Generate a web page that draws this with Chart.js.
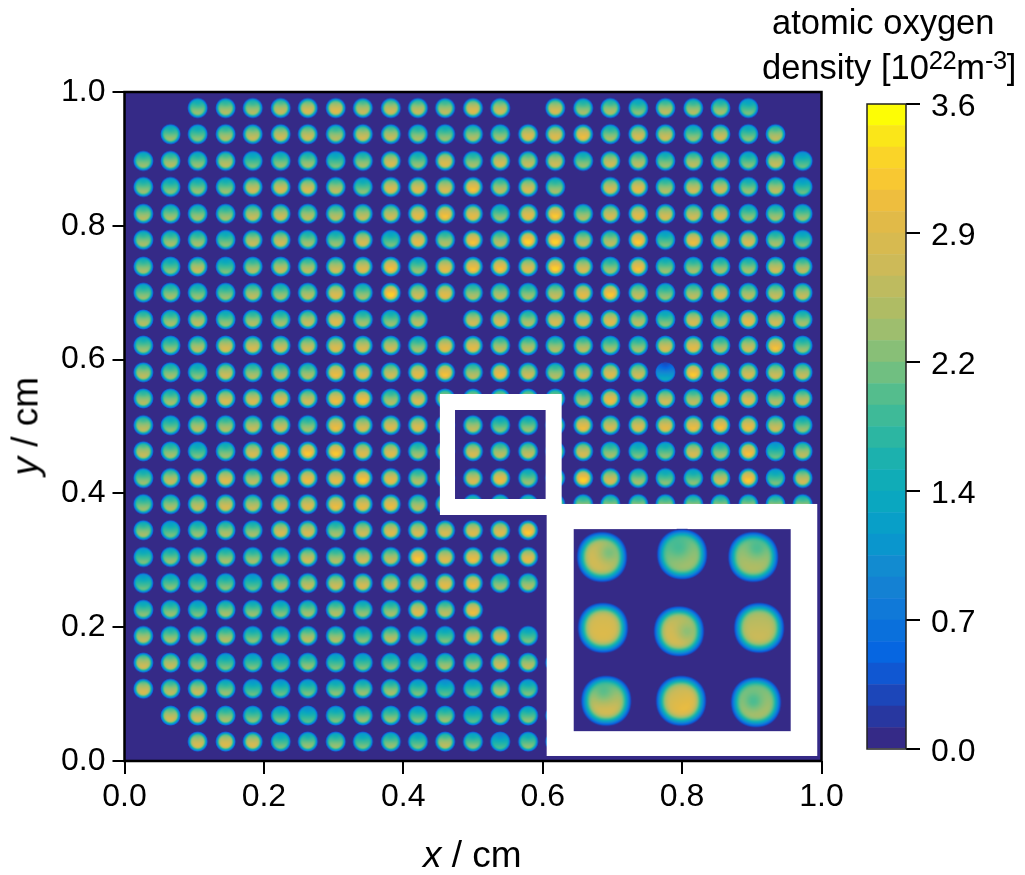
<!DOCTYPE html>
<html>
<head>
<meta charset="utf-8">
<title>atomic oxygen density</title>
<script src="https://cdn.jsdelivr.net/npm/chart.js@4"></script>
<style>
  html, body { margin: 0; padding: 0; background: #fff; }
  #page { position: relative; width: 1025px; height: 875px; overflow: hidden; font-family: "Liberation Sans", Arial, sans-serif; color: #000; }
  canvas { position: absolute; top: 0; }
  .label { position: absolute; white-space: nowrap; line-height: 1; }
  .label sup { font-size: 0.74em; line-height: 0; vertical-align: baseline; position: relative; top: -0.4em; letter-spacing: -0.02em; }
</style>
</head>
<body>
<div id="page">
  <canvas id="mapChart" width="1025" height="875" style="left:0"></canvas>
  <canvas id="barChart" width="185" height="875" style="left:840px"></canvas>
  <div class="label" style="left:772px;top:5px;font-size:34.5px">atomic oxygen</div>
  <div class="label" style="left:762px;top:50px;font-size:34.5px">density [10<sup>22</sup>m<sup>-3</sup>]</div>
  <div class="label" style="left:423px;top:836px;font-size:37px"><i>x</i> / cm</div>
  <div class="label" style="left:-24px;top:408px;font-size:37px;width:98px;transform:rotate(-90deg)"><i>y</i> / cm</div>
</div>
<script>
// hole centres in cm
const colX = [0.027, 0.066, 0.105, 0.145, 0.184, 0.224, 0.263, 0.303, 0.342, 0.382, 0.421, 0.460, 0.500,
              0.539, 0.579, 0.618, 0.658, 0.697, 0.737, 0.776, 0.816, 0.855, 0.895, 0.934, 0.973];
const rowY = [0.976, 0.937, 0.897, 0.858, 0.818, 0.779, 0.739, 0.700, 0.660, 0.621, 0.581, 0.542, 0.502,
              0.463, 0.423, 0.384, 0.345, 0.305, 0.266, 0.226, 0.187, 0.147, 0.108, 0.068, 0.029];

// peak density per hole, top row first, null where a hole is blocked
const _ = null;
const densityRows = [
  [_, _, 2.1, 2.3, 2.3, 2.5, 2.7, 2.8, 2.5, 2.6, 2.5, 2.4, 2.8, 2.6, _, 2.7, 2.2, 2.3, 2.0, 2.4, 2.3, 2.2, 1.9, _, _],
  [_, 2.1, 2.0, 2.3, 2.5, 2.6, 2.6, 2.3, 2.6, 2.5, 2.2, 2.1, 2.3, 2.2, 2.8, 2.8, 3.0, 2.2, 2.7, 2.6, 2.1, 2.6, 2.0, 2.4, _],
  [2.1, 2.3, 2.1, 2.4, 1.9, 2.1, 2.2, 1.9, 2.2, 2.7, 2.1, 2.8, 2.2, 2.7, 2.5, 2.6, 2.1, 2.6, 2.4, 2.1, 2.4, 2.3, 2.0, 2.5, 1.8],
  [2.1, 2.0, 2.1, 2.1, 2.6, 2.7, 2.7, 2.4, 2.0, 2.8, 2.8, 2.7, 3.1, 2.4, 2.7, 2.2, _, 2.7, 2.9, 2.3, 2.6, 2.6, 2.1, 2.4, 1.8],
  [2.3, 2.2, 2.2, 2.2, 2.5, 2.6, 2.4, 2.4, 2.5, 2.6, 2.9, 3.1, 2.9, 2.1, 2.9, 3.2, 2.3, 2.7, 2.9, 2.7, 2.6, 2.7, 2.1, 2.2, 2.1],
  [2.2, 2.2, 2.2, 2.0, 2.5, 2.6, 2.2, 2.1, 2.7, 1.9, 2.9, 2.3, 3.1, 2.4, 3.3, 3.3, 2.5, 2.4, 3.2, 1.9, 3.0, 2.6, 2.7, 2.2, 1.9],
  [2.2, 2.0, 2.5, 1.9, 2.3, 2.5, 2.4, 2.6, 2.8, 3.1, 2.1, 2.9, 3.1, 3.1, 2.8, 3.3, 2.7, 2.2, 3.1, 2.1, 2.2, 2.2, 2.2, 2.6, 2.4],
  [2.1, 2.2, 2.1, 2.1, 2.4, 2.2, 2.4, 2.8, 2.2, 3.3, 2.6, 2.9, 2.3, 2.4, 2.2, 2.5, 2.9, 3.2, 2.5, 2.1, 2.4, 2.7, 2.4, 2.5, 2.5],
  [2.3, 2.2, 2.4, 2.1, 2.3, 2.2, 2.5, 2.8, 2.2, 2.1, 2.4, _, 2.6, 2.7, 2.3, 2.7, 2.7, 2.8, 2.4, 2.0, 2.7, 2.3, 2.9, 2.6, 2.2],
  [2.1, 2.1, 2.4, 2.7, 2.7, 2.6, 2.6, 2.8, 2.7, 2.6, 2.2, 2.9, 2.9, 2.4, 2.4, 2.3, 2.4, 2.2, 2.2, 2.7, 2.9, 2.3, 2.6, 3.1, 2.1],
  [2.4, 2.2, 2.0, 2.6, 2.3, 2.4, 2.3, 3.0, 2.8, 2.6, 2.9, 3.1, 2.4, 3.0, 2.6, 2.3, 2.6, 2.8, 2.6, 1.0, 3.2, 2.6, 2.7, 2.6, 2.5],
  [2.3, 2.2, 2.5, 2.7, 2.7, 2.8, 2.6, 3.0, 3.1, 2.3, 2.7, 2.6, 2.6, 2.6, 2.6, 2.5, 2.3, 3.0, 2.3, 2.6, 2.4, 2.9, 2.8, 2.3, 2.5],
  [2.4, 2.0, 2.4, 2.3, 2.5, 2.6, 2.2, 3.0, 2.7, 2.8, 2.8, 2.6, 2.4, 2.0, 2.1, 2.5, 3.0, 2.7, 2.8, 2.9, 3.0, 3.1, 3.0, 2.6, 2.1],
  [2.5, 2.2, 1.9, 2.1, 2.7, 3.0, 3.2, 3.2, 2.8, 2.8, 2.2, 2.6, 2.7, 2.4, 2.5, 2.5, 2.7, 2.2, 1.9, 2.0, 2.7, 2.2, 3.1, 1.8, 2.4],
  [2.1, 2.5, 2.7, 2.8, 2.4, 2.8, 3.0, 2.9, 3.2, 2.9, 2.3, 2.6, 2.7, 3.0, 2.1, 2.5, 3.3, 2.7, 2.2, 2.0, 2.0, 2.6, 3.2, 1.9, 2.6],
  [2.1, 2.3, 2.5, 2.7, 2.5, 2.7, 2.8, 3.0, 2.9, 3.0, 2.4, 2.6, 2.3, 2.3, 2.3, 2.5, 2.3, 2.3, 2.3, 2.3, 2.3, 2.3, 2.3, 2.3, 2.3],
  [2.2, 1.9, 2.1, 2.3, 2.2, 2.7, 2.7, 2.2, 2.6, 2.8, 2.7, 2.7, 2.8, 2.8, 3.2, _, _, _, _, _, _, _, _, _, _],
  [1.9, 2.1, 2.2, 2.2, 2.2, 2.1, 2.6, 2.3, 2.6, 2.5, 3.2, 2.8, 3.0, 2.6, 2.9, _, _, _, _, _, _, _, _, _, _],
  [1.8, 2.0, 1.9, 2.0, 1.8, 2.3, 2.5, 2.6, 2.7, 2.6, 2.6, 2.9, 3.0, 2.2, 2.3, _, _, _, _, _, _, _, _, _, _],
  [2.0, 2.1, 1.9, 2.2, 2.1, 2.0, 2.2, 2.3, 2.1, 2.2, 2.8, 2.4, 3.0, _, _, _, _, _, _, _, _, _, _, _, _],
  [2.4, 2.2, 2.2, 2.3, 2.0, 2.0, 2.4, 2.3, 2.0, 2.4, 1.8, 1.9, 2.6, 2.8, 1.9, _, _, _, _, _, _, _, _, _, _],
  [2.6, 2.5, 2.2, 1.9, 1.9, 1.8, 2.1, 1.9, 1.9, 2.0, 1.8, 2.2, 2.2, 2.6, 2.4, 2.0, _, _, _, _, _, _, _, _, _],
  [2.7, 2.4, 2.5, 2.1, 1.8, 1.8, 1.9, 2.0, 2.1, 2.2, 1.9, 1.7, 1.8, 2.3, 1.9, _, _, _, _, _, _, _, _, _, _],
  [_, 2.6, 2.6, 2.2, 2.0, 1.9, 1.7, 1.9, 2.1, 2.1, 1.9, 2.1, 1.7, 1.9, 2.0, 2.0, _, _, _, _, _, _, _, _, _],
  [_, _, 2.7, 2.8, 2.7, 1.9, 2.1, 2.1, 1.9, 2.1, 1.9, 2.4, 2.0, 1.6, 2.0, 2.0, _, _, _, _, _, _, _, _, _]
];

// blown-up view of the nine holes inside the small box
const insetX = [0.685, 0.800, 0.902, 0.6865, 0.7955, 0.9105, 0.691, 0.7985, 0.906];
const insetY = [0.305, 0.309, 0.305, 0.199, 0.194, 0.199, 0.090, 0.090, 0.088];
const insetDensity = [2.75, 2.25, 2.4, 2.9, 2.8, 2.65, 2.6, 2.95, 2.4];
const insetTiltX = [-0.2, 0.15, 0.0, 0.0, -0.1, 0.0, 0.0, 0.2, 0.0];
const insetTiltY = [0.15, 0.3, 0.3, 0.15, 0.3, 0.25, 0.7, 0.4, 0.3];
const insetPatchX = [0.25, -0.1, 0.15, 0, 0.3, 0, -0.1, 0, -0.1];
const insetPatchY = [-0.15, -0.2, -0.3, 0, 0.05, 0, -0.25, 0, 0];
const insetPatchDrop = [0.5, 0.25, 0.35, 0, 0.5, 0, 0.35, 0, 0.45];

// white surrounds in cm: [left, right, top, bottom]
const smallBoxOuter = [0.4525, 0.6272, 0.5486, 0.3677];
const smallBoxInner = [0.4742, 0.6042, 0.5247, 0.3916];
const largeBoxOuter = [0.6057, 0.9939, 0.3842, 0.0075];
const largeBoxInner = [0.6445, 0.9558, 0.3466, 0.0446];

const axisTicks = [0, 0.2, 0.4, 0.6, 0.8, 1];
const barTicks = [0, 0.72, 1.44, 2.16, 2.88, 3.6];
const barMax = 3.6;
const colormap = [
  [53, 42, 135], [40, 55, 160], [28, 70, 185], [16, 87, 210], [6, 102, 225], [10, 112, 220],
  [16, 121, 216], [20, 129, 211], [18, 139, 208], [10, 150, 205], [8, 159, 200], [10, 167, 192],
  [16, 172, 183], [28, 177, 174], [44, 182, 162], [62, 186, 152], [84, 189, 141], [112, 191, 129],
  [136, 191, 119], [158, 190, 110], [175, 188, 100], [190, 187, 95], [205, 186, 88], [215, 186, 80],
  [225, 186, 72], [238, 190, 62], [248, 200, 50], [250, 212, 40], [250, 230, 25], [253, 253, 5]
];

const fontFamily = '"Liberation Sans", Arial, sans-serif';
const rgb = c => 'rgb(' + c.join(',') + ')';

function colourFor(value) {
  const t = Math.max(0, Math.min(0.9999, value / barMax)) * (colormap.length - 1);
  const i = Math.floor(t), f = t - i;
  const a = colormap[i], b = colormap[Math.min(i + 1, colormap.length - 1)];
  return [a[0] + (b[0] - a[0]) * f, a[1] + (b[1] - a[1]) * f, a[2] + (b[2] - a[2]) * f];
}

// one jet spot as a small canvas: a linear ramp from the rim rounded off into the top,
// denser on the lower side; s.shape above 2 squares the outline off a little
function makeSpot(peak, radius, s) {
  const size = Math.ceil(radius * 2) + 2;
  const cv = document.createElement('canvas');
  cv.width = size; cv.height = size;
  const g = cv.getContext('2d');
  const img = g.createImageData(size, size);
  const c = size / 2;
  for (let py = 0; py < size; py++) {
    for (let px = 0; px < size; px++) {
      const dx = (px + 0.5 - c) / radius, dy = (py + 0.5 - c) / radius;
      const r = Math.pow(Math.pow(Math.abs(dx), s.shape) + Math.pow(Math.abs(dy), s.shape), 1 / s.shape);
      if (r >= 1) continue;
      const gx = dx - s.patchX, gy = dy - s.patchY;
      const patch = s.drop * Math.exp(-(gx * gx + gy * gy) / 0.16);
      const top = peak + s.tiltX * dx + s.tiltY * dy - patch;
      const ramp = (1 - r) * s.slope;
      const value = Math.pow(Math.pow(top, -6) + Math.pow(ramp, -6), -1 / 6);
      const col = colourFor(value);
      const k = (py * size + px) * 4;
      img.data[k] = col[0]; img.data[k + 1] = col[1]; img.data[k + 2] = col[2];
      img.data[k + 3] = 255;
    }
  }
  g.putImageData(img, 0, 0);
  return cv;
}

const spotCache = {};
function mainSpot(value) {
  if (!spotCache[value]) {
    spotCache[value] = makeSpot(value - 0.05, 10.3, { shape: 2, slope: 6.4, tiltX: 0, tiltY: 0.7, patchX: 0, patchY: -0.5, drop: 0.15 });
  }
  return spotCache[value];
}
const insetSpots = insetDensity.map((v, i) => makeSpot(v, 25.5, {
  shape: 2.15, slope: 6.6, tiltX: insetTiltX[i], tiltY: insetTiltY[i], patchX: insetPatchX[i], patchY: insetPatchY[i], drop: insetPatchDrop[i]
}));

const holePoints = [];
densityRows.forEach((row, r) => row.forEach((v, c) => {
  if (v !== null) holePoints.push({ x: colX[c], y: rowY[r], v: v });
}));
const insetPoints = insetX.map((x, i) => ({ x: x, y: insetY[i] }));

function boxRect(scales, box) {
  const left = scales.x.getPixelForValue(box[0]), right = scales.x.getPixelForValue(box[1]);
  const top = scales.y.getPixelForValue(box[2]), bottom = scales.y.getPixelForValue(box[3]);
  return [left, top, right - left, bottom - top];
}

const mapPlugin = {
  id: 'mapPlugin',
  beforeDatasetsDraw(chart) {
    const a = chart.chartArea, ctx = chart.ctx;
    ctx.fillStyle = rgb(colormap[0]);
    ctx.fillRect(a.left, a.top, a.width, a.height);
  },
  // the surrounds go over the main spots but under the enlarged ones
  beforeDatasetDraw(chart, args) {
    if (args.index !== 0) return;
    const ctx = chart.ctx, s = chart.scales;
    ctx.save();
    ctx.fillStyle = '#fff';
    ctx.beginPath();
    ctx.rect(...boxRect(s, smallBoxOuter));
    ctx.rect(...boxRect(s, smallBoxInner));
    ctx.fill('evenodd');
    ctx.fillRect(...boxRect(s, largeBoxOuter));
    ctx.fillStyle = rgb(colormap[0]);
    ctx.fillRect(...boxRect(s, largeBoxInner));
    ctx.restore();
  },
  afterDatasetsDraw(chart) {
    const a = chart.chartArea, ctx = chart.ctx;
    ctx.strokeStyle = '#000';
    ctx.lineWidth = 2.5;
    ctx.strokeRect(a.left, a.top, a.width, a.height);
  }
};

new Chart(document.getElementById('mapChart'), {
  type: 'scatter',
  data: {
    datasets: [
      { data: insetPoints, pointRadius: 26, pointStyle: c => insetSpots[c.dataIndex] },
      { data: holePoints, pointRadius: 11, pointStyle: c => mainSpot(c.raw.v) }
    ]
  },
  options: {
    responsive: false,
    animation: false,
    events: [],
    layout: { padding: { left: 0, top: 92, right: 203.5, bottom: 0 } },
    plugins: { legend: { display: false }, tooltip: { enabled: false } },
    scales: {
      x: {
        type: 'linear', min: 0, max: 1,
        afterFit: s => { s.height = 114; },
        afterBuildTicks: s => { s.ticks = axisTicks.map(v => ({ value: v })); },
        border: { display: false },
        grid: { drawOnChartArea: false, color: '#000', lineWidth: 2, tickLength: 13 },
        ticks: { color: '#000', maxRotation: 0, padding: 4, font: { family: fontFamily, size: 32 }, callback: v => v.toFixed(1) }
      },
      y: {
        type: 'linear', min: 0, max: 1,
        afterFit: s => { s.width = 124.5; },
        afterBuildTicks: s => { s.ticks = axisTicks.map(v => ({ value: v })); },
        border: { display: false },
        grid: { drawOnChartArea: false, color: '#000', lineWidth: 2, tickLength: 12 },
        ticks: { color: '#000', padding: 7, font: { family: fontFamily, size: 32 }, callback: v => v.toFixed(1) }
      }
    }
  },
  plugins: [mapPlugin]
});

const barPlugin = {
  id: 'barPlugin',
  afterDatasetsDraw(chart) {
    const a = chart.chartArea, ctx = chart.ctx;
    ctx.strokeStyle = '#222';
    ctx.lineWidth = 1.5;
    ctx.strokeRect(a.left, a.top, a.width, a.height);
  }
};

new Chart(document.getElementById('barChart'), {
  type: 'bar',
  data: {
    labels: ['density'],
    datasets: colormap.map(c => ({
      data: [barMax / colormap.length],
      backgroundColor: rgb(c),
      borderWidth: 0,
      barPercentage: 1,
      categoryPercentage: 1
    }))
  },
  options: {
    responsive: false,
    animation: false,
    events: [],
    layout: { padding: { left: 27, top: 104, right: 0, bottom: 126 } },
    plugins: { legend: { display: false }, tooltip: { enabled: false } },
    scales: {
      x: { stacked: true, display: false },
      y: {
        stacked: true, position: 'right', min: 0, max: barMax,
        afterFit: s => { s.width = 119; },
        afterBuildTicks: s => { s.ticks = barTicks.map(v => ({ value: v })); },
        border: { display: false },
        grid: { drawOnChartArea: false, color: '#000', lineWidth: 2, tickLength: 14 },
        ticks: { color: '#000', padding: 11, labelOffset: 3, font: { family: fontFamily, size: 32 }, callback: v => v.toFixed(1) }
      }
    }
  },
  plugins: [barPlugin]
});
</script>
</body>
</html>
